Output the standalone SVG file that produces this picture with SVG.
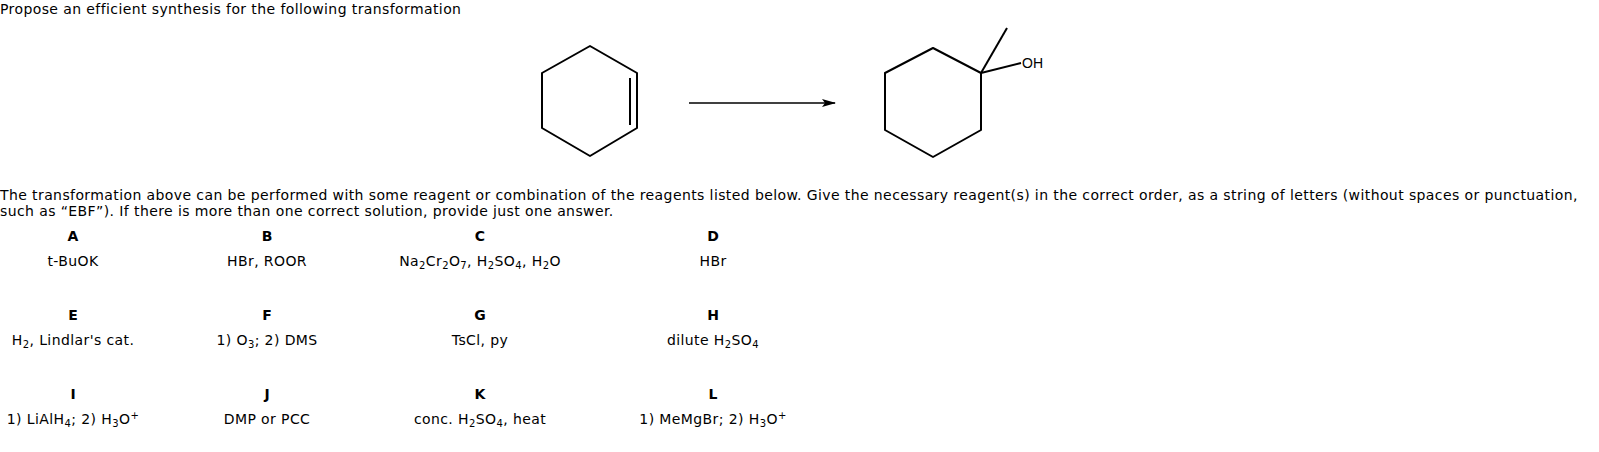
<svg xmlns="http://www.w3.org/2000/svg" width="1599" height="452" viewBox="0 0 1599 452">
<style>
text{font-family:"DejaVu Sans",Verdana,sans-serif;font-size:14px;letter-spacing:0.4px;fill:#000}
.l{font-weight:bold;text-anchor:middle;letter-spacing:0}
.c{text-anchor:middle}
.b{fill:none;stroke:#000;stroke-width:2;stroke-linejoin:round}
.s{font-size:10px}
</style>
<defs><marker id="ah" markerWidth="14" markerHeight="8" refX="13" refY="4" orient="auto" markerUnits="userSpaceOnUse"><path d="M0,0 L14,4 L0,8 L3,4 Z" fill="#000"/></marker></defs>
<rect width="1599" height="452" fill="#fff"/>
<text x="0" y="14">Propose an efficient synthesis for the following transformation</text>
<g id="cyclohexene">
<polygon class="b" points="590,46 637,73 637,128 590,156 542,128 542,73"/>
<line class="b" x1="630" y1="78" x2="630" y2="125"/>
</g>
<g id="product">
<polygon class="b" points="933,48 981,73 981,130 933,157 885,130 885,73"/>
<line class="b" x1="981" y1="73" x2="1007" y2="28"/>
<line class="b" x1="981" y1="73" x2="1021" y2="63"/>
<text x="1022" y="68" style="font-family:'Liberation Sans',Arial,sans-serif;font-size:14px;letter-spacing:0">OH</text>
</g>
<g id="connectors">
<line x1="689" y1="103" x2="835" y2="103" stroke="#000" stroke-width="1.5" marker-end="url(#ah)"/>
</g>
<text x="0" y="200">The transformation above can be performed with some reagent or combination of the reagents listed below. Give the necessary reagent(s) in the correct order, as a string of letters (without spaces or punctuation,</text>
<text x="0" y="216">such as “EBF”). If there is more than one correct solution, provide just one answer.</text>
<g id="A"><text class="l" x="73" y="241">A</text><text class="c" x="73" y="266">t-BuOK</text></g>
<g id="B"><text class="l" x="267" y="241">B</text><text class="c" x="267" y="266">HBr, ROOR</text></g>
<g id="C"><text class="l" x="480" y="241">C</text><text class="c" x="480" y="266">Na<tspan class="s" dy="3">2</tspan><tspan dy="-3">Cr</tspan><tspan class="s" dy="3">2</tspan><tspan dy="-3">O</tspan><tspan class="s" dy="3">7</tspan><tspan dy="-3">, H</tspan><tspan class="s" dy="3">2</tspan><tspan dy="-3">SO</tspan><tspan class="s" dy="3">4</tspan><tspan dy="-3">, H</tspan><tspan class="s" dy="3">2</tspan><tspan dy="-3">O</tspan></text></g>
<g id="D"><text class="l" x="713" y="241">D</text><text class="c" x="713" y="266">HBr</text></g>
<g id="E"><text class="l" x="73" y="320">E</text><text class="c" x="73" y="345">H<tspan class="s" dy="3">2</tspan><tspan dy="-3">, Lindlar's cat.</tspan></text></g>
<g id="F"><text class="l" x="267" y="320">F</text><text class="c" x="267" y="345">1) O<tspan class="s" dy="3">3</tspan><tspan dy="-3">; 2) DMS</tspan></text></g>
<g id="G"><text class="l" x="480" y="320">G</text><text class="c" x="480" y="345">TsCl, py</text></g>
<g id="H"><text class="l" x="713" y="320">H</text><text class="c" x="713" y="345">dilute H<tspan class="s" dy="3">2</tspan><tspan dy="-3">SO</tspan><tspan class="s" dy="3">4</tspan></text></g>
<g id="I"><text class="l" x="73" y="399">I</text><text class="c" x="73" y="424">1) LiAlH<tspan class="s" dy="3">4</tspan><tspan dy="-3">; 2) H</tspan><tspan class="s" dy="3">3</tspan><tspan dy="-3">O</tspan><tspan class="s" dy="-5">+</tspan></text></g>
<g id="J"><text class="l" x="267" y="399">J</text><text class="c" x="267" y="424">DMP or PCC</text></g>
<g id="K"><text class="l" x="480" y="399">K</text><text class="c" x="480" y="424">conc. H<tspan class="s" dy="3">2</tspan><tspan dy="-3">SO</tspan><tspan class="s" dy="3">4</tspan><tspan dy="-3">, heat</tspan></text></g>
<g id="L"><text class="l" x="713" y="399">L</text><text class="c" x="713" y="424">1) MeMgBr; 2) H<tspan class="s" dy="3">3</tspan><tspan dy="-3">O</tspan><tspan class="s" dy="-5">+</tspan></text></g>
</svg>
